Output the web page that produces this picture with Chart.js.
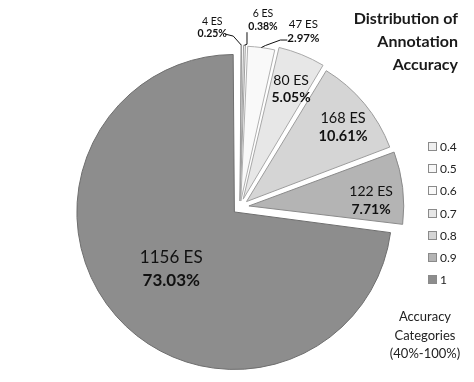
<!DOCTYPE html>
<html>
<head>
<meta charset="utf-8">
<script src="https://cdn.jsdelivr.net/npm/chart.js@4.4.1/dist/chart.umd.min.js"></script>
<style>
  html, body { margin: 0; padding: 0; background: #ffffff; }
  #wrap { position: relative; width: 474px; height: 382px; overflow: hidden; font-family: Lato, "Open Sans", sans-serif; }
  #c { position: absolute; left: 0; top: 0; }
  #title { position: absolute; right: 16px; top: 6px; text-align: right; font-weight: bold; font-size: 16px; line-height: 23px; color: #1a1a1a; }
  #legend { position: absolute; left: 428px; top: 136px; font-size: 12px; color: #222; }
  .li { height: 22.2px; line-height: 22.2px; white-space: nowrap; }
  .sw { display: inline-block; width: 7px; height: 7px; border: 1px solid #8a8a8a; margin-right: 3px; vertical-align: 0px; }
  #cap { position: absolute; left: 375px; width: 100px; top: 307px; text-align: center; font-size: 13px; line-height: 18.5px; color: #222; }
</style>
</head>
<body>
<div id="wrap">
  <canvas id="c" width="474" height="382"></canvas>
  <div id="title">Distribution of<br>Annotation<br>Accuracy</div>
  <div id="legend"></div>
  <div id="cap">Accuracy<br>Categories<br>(40%-100%)</div>
</div>
<script>
// ---- data ----
const categories = ['0.4', '0.5', '0.6', '0.7', '0.8', '0.9', '1'];
const counts = [4, 6, 47, 80, 168, 122, 1156];
const unitLabel = 'ES';

// ---- styles ----
const fills = ['#efefef', '#f7f7f7', '#f9f9f9', '#e7e7e7', '#d5d5d5', '#b4b4b4', '#8d8d8d'];
const rims = ['#9a9a9a', '#a0a0a0', '#b0b0b0', '#a8a8a8', '#9c9c9c', '#8a8a8a', '#6e6e6e'];
const explode = [24, 24, 24, 34, 34, 36, 30];

const total = counts.reduce((a, b) => a + b, 0);
const pctText = counts.map(v => (v / total * 100).toFixed(2) + '%');

// label placement: inside labels use radial factor (+ small angular nudge); outside use offset from rim anchor
const labelPlace = [
  { out: true, dx: -29, dy: -23, lead: [[-8, -9], [-16, -11]], size: 10.5, gap: 11.5 },
  { out: true, dx: 18.5, dy: -32, lead: [[2.5, -1], [2.5, -13]], size: 10.5, gap: 13 },
  { out: true, dx: 42, dy: -23.5, lead: [[4, -2], [19, -7.5], [26, -7.5]], size: 11.5, gap: 14 },
  { out: false, f: 0.85, rot: 0, size: 14, gap: 16.5 },
  { out: false, f: 0.85, rot: -1, size: 14.5, gap: 18 },
  { out: false, f: 0.82, rot: 0, size: 14, gap: 18 },
  { out: false, f: 0.52, rot: 5, size: 17, gap: 23 }
];

const labelPlugin = {
  id: 'sliceLabels',
  afterDatasetsDraw(chart) {
    const ctx = chart.ctx;
    const meta = chart.getDatasetMeta(0);
    meta.data.forEach((arc, i) => {
      const p = arc.getProps(['x', 'y', 'startAngle', 'endAngle', 'outerRadius', 'circumference'], true);
      const mid = (p.startAngle + p.endAngle) / 2;
      const t = explode[i] / 4;
      const fix = 1 - Math.sin(Math.min(Math.PI, p.circumference || 0));
      const pl = labelPlace[i];
      let lx, ly;
      if (pl.out) {
        const rr = p.outerRadius + t + t * fix;
        const ax = p.x + Math.cos(mid) * rr;
        const ay = p.y + Math.sin(mid) * rr;
        lx = ax + pl.dx; ly = ay + pl.dy;
        ctx.save();
        ctx.strokeStyle = '#111';
        ctx.lineWidth = 1;
        ctx.beginPath();
        ctx.moveTo(ax, ay);
        pl.lead.forEach(pt => ctx.lineTo(ax + pt[0], ay + pt[1]));
        ctx.stroke();
        ctx.restore();
      } else {
        const a = mid + (pl.rot || 0) * Math.PI / 180;
        const r = p.outerRadius * pl.f + t;
        lx = p.x + Math.cos(a) * r; ly = p.y + Math.sin(a) * r;
      }
      ctx.save();
      ctx.fillStyle = '#111';
      ctx.textAlign = 'center';
      ctx.textBaseline = 'middle';
      ctx.font = pl.size + 'px Lato, "Open Sans", sans-serif';
      ctx.fillText(counts[i] + ' ' + unitLabel, lx, ly);
      ctx.font = 'bold ' + pl.size + 'px Lato, "Open Sans", sans-serif';
      ctx.fillText(pctText[i], lx, ly + pl.gap);
      ctx.restore();
    });
  }
};

const chart = new Chart(document.getElementById('c'), {
  type: 'pie',
  data: {
    labels: categories,
    datasets: [{
      data: counts,
      backgroundColor: fills,
      borderColor: rims,
      borderWidth: 1,
      offset: explode
    }]
  },
  options: {
    responsive: false,
    animation: false,
    radius: 150,
    layout: { padding: { left: 6, right: 0, top: 32, bottom: 0 } },
    plugins: {
      legend: { display: false },
      tooltip: { enabled: false },
      title: { display: false }
    }
  },
  plugins: [labelPlugin]
});

// HTML legend built from categories
const lg = document.getElementById('legend');
categories.forEach((c, i) => {
  const d = document.createElement('div');
  d.className = 'li';
  const s = document.createElement('span');
  s.className = 'sw';
  s.style.background = fills[i];
  d.appendChild(s);
  d.appendChild(document.createTextNode(c));
  lg.appendChild(d);
});
</script>
</body>
</html>
